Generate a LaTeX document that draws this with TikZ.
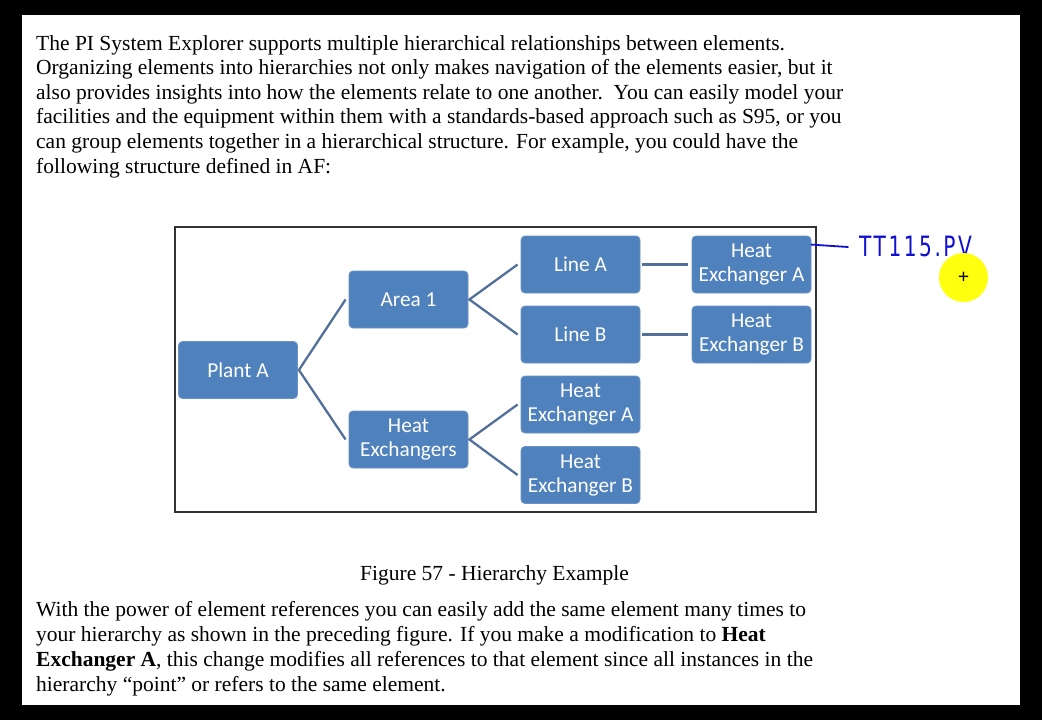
\documentclass[tikz,border=0pt]{standalone}
\usepackage{fontspec}
\setmainfont{Liberation Serif}
\newfontfamily\boxfont{Carlito}
\newfontfamily\inkfont[FakeStretch=0.72,LetterSpace=9]{DejaVu Sans}
\definecolor{elemblue}{HTML}{4F81BD}
\definecolor{elemedge}{HTML}{6A93C6}
\definecolor{linkgray}{HTML}{52709A}
\definecolor{inkblue}{HTML}{1010D0}
\definecolor{cursoryellow}{HTML}{FFFF10}

\begin{document}
\begin{tikzpicture}[x=1pt,y=-1pt,
    elem/.style={draw=elemedge,fill=elemblue,rounded corners=4pt,line width=0.8pt,
      minimum width=119pt,minimum height=57pt,inner sep=1pt,align=center,
      text=white,font=\boxfont\fontsize{21.3}{24}\selectfont},
    link/.style={draw=linkgray,line width=2.3pt},
    body/.style={anchor=base west,inner sep=0pt,font=\fontsize{21.5}{24.6}\selectfont},
    ink/.style={draw=inkblue,line width=1.8pt,line cap=round}]
    \fill[black] (0,0) rectangle (1042,720);
    \fill[white] (22,15) rectangle (1020,705);
    \def\toplines{{The PI System Explorer supports multiple hierarchical relationships between elements.},
      {Organizing elements into hierarchies not only makes navigation of the elements easier, but it},
      {also provides insights into how the elements relate to one another.\ \ You can easily model your},
      {facilities and the equipment within them with a standards-based approach such as S95, or you},
      {can group elements together in a hierarchical structure. For example, you could have the},
      {following structure defined in AF:}}
    \foreach \t [count=\i from 1] in \toplines {\node[body] (top\i) at (36,{50+24.6*(\i-1)}) {\t};}
    \def\botlines{{With the power of element references you can easily add the same element many times to},
      {your hierarchy as shown in the preceding figure. If you make a modification to \textbf{Heat}},
      {\textbf{Exchanger A}, this change modifies all references to that element since all instances in the},
      {hierarchy “point” or refers to the same element.}}
    \foreach \t [count=\i from 1] in \botlines {\node[body] (bot\i) at (36,{616+25*(\i-1)}) {\t};}
    \node[body,anchor=base] (caption) at (494.5,580) {Figure 57 - Hierarchy Example};
    %Figure
    \draw[line width=1.3pt,black!80] (175,227) rectangle (816,512);
    \node[elem] (plant) at (238,370) {Plant A};
    \node[elem] (area) at (408.5,299.5) {Area 1};
    \node[elem] (hxs) at (408.5,439.5) {Heat\\Exchangers};
    \node[elem] (linea) at (580.5,264.5) {Line A};
    \node[elem] (lineb) at (580.5,334.5) {Line B};
    \node[elem] (hxa) at (580.5,404.5) {Heat\\Exchanger A};
    \node[elem] (hxb) at (580.5,475) {Heat\\Exchanger B};
    \node[elem] (refa) at (751.5,264.5) {Heat\\Exchanger A};
    \node[elem] (refb) at (751.5,334.5) {Heat\\Exchanger B};
    \draw[link] ([xshift=-3pt]area.west) -- ([xshift=1pt]plant.east) -- ([xshift=-3pt]hxs.west);
    \draw[link] ([xshift=-3pt]linea.west) -- ([xshift=1pt]area.east) -- ([xshift=-3pt]lineb.west);
    \draw[link] ([xshift=-3pt]hxa.west) -- ([xshift=1pt]hxs.east) -- ([xshift=-3pt]hxb.west);
    \draw[link] ([xshift=2pt]linea.east) -- ([xshift=-4pt]refa.west);
    \draw[link] ([xshift=2pt]lineb.east) -- ([xshift=-4pt]refb.west);
    %Ink
    \coordinate (inkend) at (848,247);
    \draw[ink] ([yshift=-9pt]refa.north east) -- (inkend);
    \node[anchor=base west,inner sep=0pt,text=inkblue,font=\inkfont\fontsize{28}{28}\selectfont] (tag) at (859,256) {TT115.PV};
    \node[circle,fill=cursoryellow,minimum size=49pt,inner sep=0pt,font=\fontsize{20}{20}\selectfont\bfseries] (cursor) at (963.5,277.5) {+};
\end{tikzpicture}
\end{document}
